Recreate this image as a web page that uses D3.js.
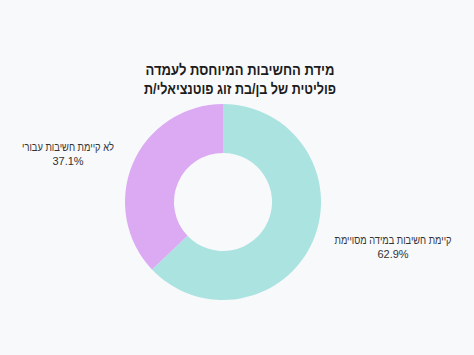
<!DOCTYPE html>
<html><head><meta charset="utf-8">
<script src="https://cdn.jsdelivr.net/npm/d3@7"></script>
<style>
html,body{margin:0;padding:0;background:#f8f9fb;}
svg{display:block;}
</style></head>
<body>
<script>
const categories = ["קיימת חשיבות במידה מסויימת", "לא קיימת חשיבות עבורי"];
const values = [62.9, 37.1];
const colors = ["#abe3e1", "#dbaaf3"];
const titleLines = ["מידת החשיבות המיוחסת לעמדה", "פוליטית של בן/בת זוג פוטנציאלי/ת"];

const W = 474, H = 355;
const svg = d3.select("body").append("svg").attr("width", W).attr("height", H);
svg.append("rect").attr("width", W).attr("height", H).attr("fill", "#f8f9fb");

const font = "'Liberation Sans', 'DejaVu Sans', sans-serif";
const titleWidths = [189, 192];

svg.append("g").selectAll("text").data(titleLines).join("text")
  .attr("x", 240).attr("y", (d, i) => 75 + i * 19)
  .attr("text-anchor", "middle").attr("direction", "rtl")
  .attr("font-family", font).attr("font-weight", "bold").attr("font-size", 15)
  .attr("textLength", (d, i) => titleWidths[i]).attr("lengthAdjust", "spacingAndGlyphs")
  .attr("fill", "#1c1c1c").text(d => d);

const cx = 223, cy = 202, R = 98, r = 49;
const pie = d3.pie().sort(null).value(d => d);
const arc = d3.arc().innerRadius(r).outerRadius(R);
const g = svg.append("g").attr("transform", `translate(${cx},${cy})`);
g.selectAll("path").data(pie(values)).join("path")
  .attr("d", arc).attr("fill", (d, i) => colors[i]);

const labelPos = [[393, 244], [68, 151]];
const labelWidths = [117, 92];
const lg = svg.append("g");
categories.forEach((c, i) => {
  const t = lg.append("text").attr("x", labelPos[i][0]).attr("y", labelPos[i][1])
    .attr("text-anchor", "middle").attr("font-family", font).attr("font-size", 11)
    .attr("fill", "#333");
  t.append("tspan").attr("x", labelPos[i][0]).attr("direction", "rtl")
    .attr("textLength", labelWidths[i]).attr("lengthAdjust", "spacingAndGlyphs").text(c);
  t.append("tspan").attr("x", labelPos[i][0]).attr("dy", 14).text(values[i].toFixed(1) + "%");
});
</script>
</body></html>
